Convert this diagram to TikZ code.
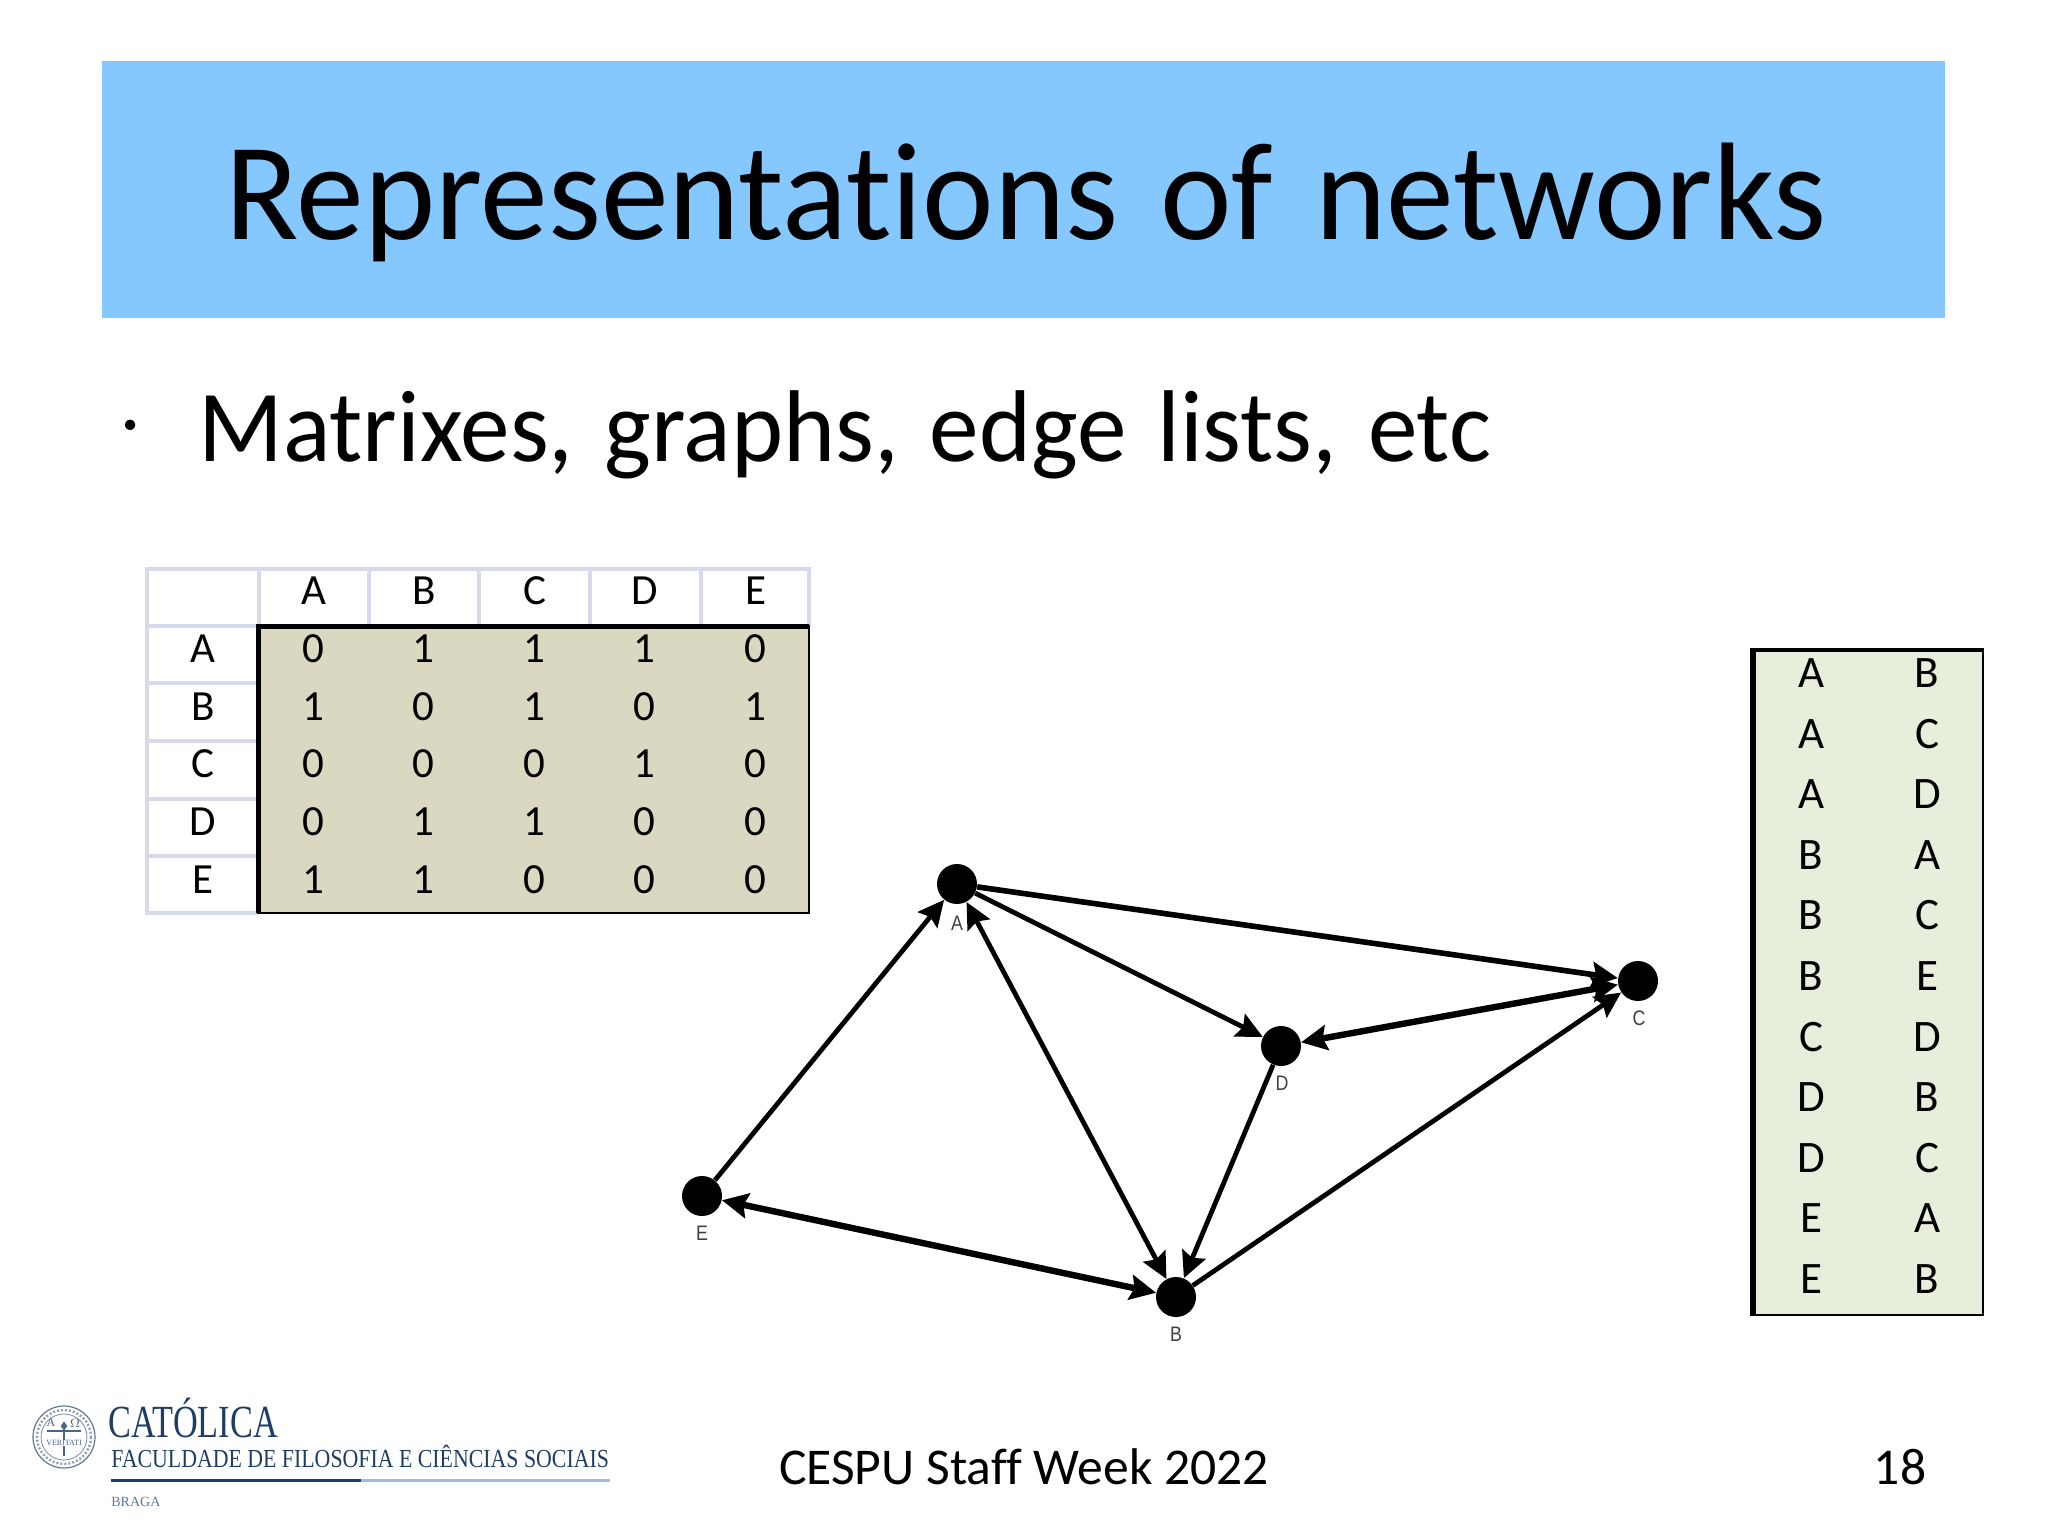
\documentclass[tikz,border=0pt]{standalone}
\usepackage{fontspec}
\setmainfont[Ligatures=NoCommon]{Carlito}
\newfontfamily\widemain[Ligatures=NoCommon,WordSpace=1.38]{Carlito}
\newfontfamily\arialf{Liberation Sans}
\newfontfamily\logof{Liberation Serif}
\usetikzlibrary{arrows.meta}
\definecolor{titlebg}{RGB}{133,199,255}
\definecolor{grid}{RGB}{214,218,235}
\definecolor{matfill}{RGB}{218,216,192}
\definecolor{listfill}{RGB}{232,238,220}
\definecolor{logoblue}{RGB}{30,62,102}
\definecolor{logolight}{RGB}{160,190,215}
\tikzset{
  titletext/.style={anchor=base,inner sep=0pt,xscale=.975,font=\widemain\fontsize{69.5}{70}\selectfont},
  bullettext/.style={anchor=base west,inner sep=0pt,xscale=.972,font=\widemain\fontsize{51}{51}\selectfont},
  bulletdot/.style={anchor=base,inner sep=0pt,font=\fontsize{36}{36}\selectfont},
  celltext/.style={inner sep=0pt,font=\fontsize{21.5}{21.5}\selectfont},
  listtext/.style={inner sep=0pt,font=\fontsize{22.5}{22.5}\selectfont},
  foot/.style={inner sep=0pt,anchor=base,font=\fontsize{25.8}{25.8}\selectfont},
  gridline/.style={grid,line width=2pt},
  netnode/.style={circle,fill=black,inner sep=0pt,minimum size=20pt},
  netlabel/.style={inner sep=0pt,text=black!75,xscale=.85,font=\arialf\fontsize{10.5}{10.5}\selectfont},
  headtip/.tip={Stealth[inset=2pt,length=13pt,width=12.5pt]},
  edge/.style={line width=2.4pt,-headtip},
  edgeboth/.style={line width=3.2pt,headtip-headtip},
  edgethin/.style={line width=2.4pt,headtip-headtip},
  logotext/.style={inner sep=0pt,anchor=base west,text=logoblue},
}
\begin{document}
\begin{tikzpicture}[x=0.5pt,y=-0.5pt]
\useasboundingbox (0,0) rectangle (2048,1536);
% title band
\fill[titlebg] (102,61) rectangle (1945,318);
\node[titletext] (title) at (1026,239) {Representations of networks};
% bullet
\node[bulletdot] (bul) at (131,445) {·};
\node[bullettext] (bultext) at (198,461) {Matrixes, graphs, edge lists, etc};
% matrix
\fill[matfill] (258,626) rectangle (809,913);
\foreach \x in {147,259,369,479,590,701,809}{\draw[gridline] (\x,567) -- (\x,626);}
\foreach \y in {626,683,741,799,856,913}{\draw[gridline] (145,\y) -- (258,\y);}
\draw[gridline] (145,569) -- (809,569);
\draw[gridline] (147,567) -- (147,915);
\draw[black,line width=1pt] (258,626) rectangle (809,913);
\draw[black,line width=2.5pt] (809,626) -- (258,626) -- (258,913);
\foreach \n/\x/\t in {a/314/A,b/424/B,c/535/C,d/645/D,e/756/E}{
  \node[celltext] (h\n) at (\x,591) {\t};}
\foreach \n/\y/\t in {a/649/A,b/707/B,c/764/C,d/822/D,e/880/E}{
  \node[celltext] (r\n) at (203,\y) {\t};}
\foreach \r/\y/\vals in {1/649/{0,1,1,1,0},2/707/{1,0,1,0,1},3/764/{0,0,0,1,0},4/822/{0,1,1,0,0},5/880/{1,1,0,0,0}}{
  \foreach \v [count=\c] in \vals {
    \pgfmathsetmacro{\xx}{313+110.6*(\c-1)}
    \node[celltext] (m\r\c) at (\xx,\y) {\v};
  }
}
% edge list
\fill[listfill] (1751,649) rectangle (1983,1315);
\draw[black,line width=1pt] (1751,649) rectangle (1983,1315);
\draw[black,line width=2.5pt] (1753,1316) -- (1753,648);
\draw[black,line width=1.8pt] (1751,650) -- (1983,650);
\foreach \l/\a/\b [count=\i from 0] in {1/A/B,2/A/C,3/A/D,4/B/A,5/B/C,6/B/E,7/C/D,8/D/B,9/D/C,10/E/A,11/E/B}{
  \pgfmathsetmacro{\yy}{673+60.6*\i}
  \node[listtext] (la\l) at (1811,\yy) {\a};
  \node[listtext] (lb\l) at (1927,\yy) {\b};
}
% network
\node[netnode] (A) at (957,884) {};
\node[netnode] (C) at (1638,981) {};
\node[netnode] (D) at (1281,1046) {};
\node[netnode] (E) at (702,1196) {};
\node[netnode] (B) at (1176,1297) {};
\node[netlabel] (lA) at (957,923) {A};
\node[netlabel] (lC) at (1639,1018) {C};
\node[netlabel] (lD) at (1282,1083) {D};
\node[netlabel] (lE) at (702,1233) {E};
\node[netlabel] (lB) at (1176,1334) {B};
\draw[line width=2.8pt,-headtip] (A) -- (C);
\draw[edge] (A) -- (D);
\draw[edgeboth] (D) -- (C);
\draw[edge] (E) -- (A);
\draw[edgethin] (A) -- (B);
\draw[edge] (D) -- (B);
\draw[edge] (B) -- (C);
\draw[edgeboth] (E) -- (B);
% footer
\node[foot] (foot) at (1024,1484) {CESPU Staff Week 2022};
\node[foot] (page) at (1900,1484) {18};
% logo
\node[logotext,font=\logof\fontsize{23}{23}\selectfont,xscale=0.745] (cat) at (108,1437) {CATÓLICA};
\node[logotext,font=\logof\fontsize{13}{13}\selectfont,xscale=0.84] (fac) at (111,1467) {FACULDADE DE FILOSOFIA E CIÊNCIAS SOCIAIS};
\node[logotext,font=\logof\fontsize{7}{7}\selectfont,text=logoblue!70] (bra) at (111,1506) {BRAGA};
\draw[logolight,line width=1.5pt] (361,1480) -- (610,1480);
\draw[logoblue,line width=1.5pt] (111,1480) -- (361,1480);
\draw[logoblue!70,line width=.6pt] (64,1437) circle (31);
\draw[logoblue!60,line width=.4pt] (64,1437) circle (23);
\draw[logoblue!50,line width=1.2pt,dash pattern=on 1pt off 1pt] (64,1437) circle (27);
\draw[logoblue!80,line width=.8pt] (47,1431) -- (81,1431) (64,1422) -- (64,1456);
\fill[logoblue!80] (64,1426) circle (3);
\node[inner sep=0pt,font=\logof\fontsize{6}{6}\selectfont,text=logoblue!80] (sa) at (51,1423) {A};
\node[inner sep=0pt,font=\logof\fontsize{6}{6}\selectfont,text=logoblue!80] (so) at (75,1423) {$\Omega$};
\node[inner sep=.3pt,font=\logof\fontsize{4}{4}\selectfont,text=logoblue!80,fill=white] (sv) at (64,1443) {VERITATI};
\end{tikzpicture}
\end{document}
